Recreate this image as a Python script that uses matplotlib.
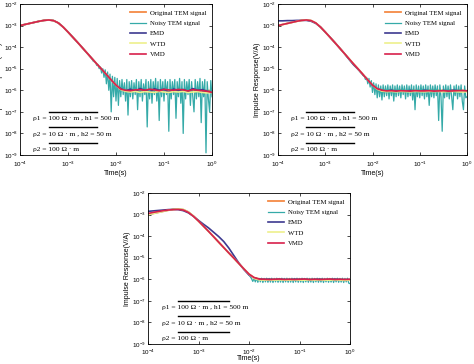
import numpy as np
import matplotlib
matplotlib.use("Agg")
import matplotlib.pyplot as plt
from matplotlib.ticker import LogLocator, NullLocator

# log10(time) grid for the smooth curves, -4 .. 0 step 0.1
LOGT = np.round(np.arange(-4.0, 0.0001, 0.1), 2)

# original TEM response (log10 V/A), shared by all panels
original = [-3.00, -2.95, -2.90, -2.85, -2.80, -2.76, -2.74, -2.77, -2.88, -3.07,
            -3.30, -3.54, -3.78, -4.03, -4.28, -4.53, -4.78, -5.02, -5.27, -5.52,
            -5.76, -5.92, -5.98, -6.00, -6.00, -6.00, -6.00, -6.01, -6.00, -6.00,
            -6.00, -6.01, -6.00, -6.00, -6.00, -6.01, -6.00, -6.00, -6.01, -6.01, -6.02]

# denoised curves, panel 1 (top left)
emd_1 = original[:21] + [-5.93, -6.03, -5.95, -6.05, -5.92, -6.00, -6.08, -5.93, -6.00, -5.95,
                         -6.10, -5.94, -6.02, -5.96, -6.05, -5.92, -6.00, -5.97, -6.05, -6.08]
wtd_1 = original[:21] + [-5.97, -6.05, -6.08, -6.05, -6.10, -6.06, -6.08, -6.10, -6.05, -6.08,
                         -6.10, -6.06, -6.08, -6.05, -6.10, -6.08, -6.06, -6.10, -6.12, -6.10]
vmd_1 = original[:21] + [-5.95, -6.00, -6.02, -5.98, -5.97, -6.00, -5.95, -5.98, -6.02, -5.96,
                         -5.98, -6.00, -5.96, -5.98, -6.03, -5.97, -6.00, -6.02, -6.05, -6.10]

# panel 2 (top right)
emd_2 = [-2.78, -2.78, -2.77, -2.77, -2.76, -2.76, -2.76, -2.80, -2.90, -3.07,
         -3.30, -3.54, -3.78, -4.03, -4.28, -4.55, -4.82, -5.04, -5.28, -5.53,
         -5.77, -5.93, -6.02, -6.03, -6.00, -6.04, -6.02, -6.05, -6.01, -6.03,
         -6.04, -6.00, -6.03, -6.02, -6.05, -6.01, -6.03, -6.00, -6.02, -6.04, -6.03]
wtd_2 = original[:21] + [-5.95, -6.04, -6.06, -6.05, -6.07, -6.05, -6.06, -6.07, -6.05, -6.06,
                         -6.07, -6.05, -6.06, -6.05, -6.07, -6.06, -6.05, -6.07, -6.08, -6.07]
vmd_2 = original[:21] + [-5.93, -6.00, -6.03, -6.02, -6.04, -6.02, -6.03, -6.04, -6.02, -6.03,
                         -6.03, -6.02, -6.04, -6.03, -6.02, -6.04, -6.03, -6.02, -6.01, -6.03]

# panel 3 (bottom)
emd_3 = [-2.85, -2.83, -2.81, -2.79, -2.77, -2.76, -2.77, -2.82, -2.92, -3.08,
         -3.27, -3.45, -3.62, -3.82, -4.02, -4.25, -4.55, -4.90, -5.25, -5.55,
         -5.80, -5.95, -6.00, -6.01, -6.00, -6.02, -6.00, -6.01, -6.02, -6.00,
         -6.01, -6.00, -6.02, -6.01, -6.00, -6.02, -6.01, -6.00, -6.01, -6.02, -6.01]
wtd_3 = original[:21] + [-5.96, -6.03, -6.04, -6.03, -6.04, -6.03, -6.04, -6.04, -6.03, -6.04,
                         -6.04, -6.03, -6.04, -6.03, -6.04, -6.04, -6.03, -6.04, -6.05, -6.04]
vmd_3 = [-2.95, -2.90, -2.86, -2.82, -2.79, -2.77, -2.76, -2.79, -2.90, -3.08,
         -3.30, -3.54, -3.78, -4.03, -4.28, -4.53, -4.78, -5.02, -5.27, -5.52,
         -5.76, -5.92, -5.99, -6.00, -6.01, -6.00, -5.99, -6.01, -6.00, -6.01,
         -6.00, -5.99, -6.01, -6.00, -6.01, -6.00, -5.99, -6.01, -6.00, -6.01, -6.00]

# noisy signal: log10(time) -2.5 .. 0, 101 samples
NOISE_LOGT = np.linspace(-2.5, 0.0, 101)

noisy_1 = [-4.55, -4.65, -4.68, -4.70, -4.85, -4.80, -5.00, -4.92, -5.20, -5.00,
           -5.40, -5.05, -5.70, -5.15, -6.00, -5.25, -7.00, -5.35, -6.30, -5.40,
           -6.50, -5.45, -6.70, -5.55, -6.30, -5.50, -6.20, -5.65, -6.50, -5.50,
           -7.15, -5.60, -6.30, -5.55, -6.40, -5.65, -6.20, -5.50, -6.90, -5.60,
           -6.30, -5.50, -6.50, -5.70, -6.20, -5.50, -7.70, -5.60, -6.40, -5.50,
           -6.60, -5.60, -6.20, -5.45, -6.50, -5.60, -7.40, -5.50, -6.30, -5.60,
           -6.50, -5.50, -6.20, -5.60, -7.90, -5.50, -6.40, -5.60, -6.20, -5.50,
           -7.30, -5.60, -6.30, -5.45, -6.60, -5.60, -8.00, -5.50, -6.40, -5.60,
           -6.20, -5.50, -6.70, -5.60, -6.30, -7.00, -5.50, -6.40, -5.60, -6.30,
           -5.45, -7.50, -5.60, -6.30, -5.50, -8.90, -5.60, -6.40, -7.00, -5.55, -6.30]

noisy_2 = [-4.57, -4.63, -4.69, -4.75, -4.80, -4.86, -4.92, -4.98, -5.05, -5.10,
           -5.18, -5.22, -5.32, -5.33, -5.50, -5.40, -5.70, -5.45, -5.85, -5.55,
           -6.10, -5.65, -6.20, -5.70, -6.35, -5.75, -6.30, -5.80, -6.45, -5.75,
           -6.30, -5.80, -6.25, -5.75, -6.40, -5.80, -6.25, -5.75, -6.50, -5.80,
           -6.30, -5.75, -6.25, -5.80, -6.35, -5.75, -6.20, -5.80, -6.40, -5.75,
           -6.30, -5.80, -6.25, -5.75, -6.45, -5.80, -6.90, -5.75, -6.30, -5.80,
           -6.35, -5.75, -6.25, -5.80, -6.40, -5.75, -6.30, -5.80, -6.70, -5.75,
           -6.30, -5.80, -6.35, -5.75, -6.25, -5.80, -7.40, -5.75, -6.30, -7.90,
           -5.80, -6.35, -5.75, -6.30, -5.80, -6.40, -5.75, -6.30, -6.90, -5.80,
           -6.25, -5.75, -6.40, -5.80, -6.30, -5.75, -6.50, -6.90, -5.80, -6.35, -6.30]

noisy_3 = [-4.53, -4.59, -4.65, -4.72, -4.78, -4.84, -4.90, -4.96, -5.02, -5.08,
           -5.15, -5.21, -5.27, -5.33, -5.40, -5.46, -5.52, -5.58, -5.66, -5.72,
           -5.80, -5.88, -5.97, -6.10, -5.96, -6.12, -5.95, -6.14, -5.96, -6.12,
           -5.95, -6.15, -5.96, -6.12, -5.95, -6.14, -5.96, -6.13, -5.95, -6.15,
           -5.96, -6.12, -5.95, -6.14, -5.96, -6.13, -5.95, -6.15, -5.96, -6.12,
           -5.95, -6.14, -5.96, -6.13, -5.95, -6.15, -5.96, -6.12, -5.95, -6.14,
           -5.96, -6.13, -5.95, -6.15, -5.96, -6.12, -5.95, -6.14, -5.96, -6.13,
           -5.95, -6.15, -5.96, -6.12, -5.95, -6.14, -5.96, -6.13, -5.95, -6.15,
           -5.96, -6.12, -5.95, -6.14, -5.96, -6.13, -5.95, -6.15, -5.96, -6.12,
           -5.95, -6.14, -5.96, -6.13, -5.95, -6.15, -5.96, -6.12, -5.95, -6.18, -6.20]

LABELS = ["Original TEM signal", "Noisy TEM signal", "EMD", "WTD", "VMD"]
COLORS = ["#f58a45", "#35aaa8", "#3d3a90", "#eef08c", "#d8204c"]
MODEL_TEXT = [r"ρ1 = 100 Ω · m , h1 = 500 m",
              r"ρ2 = 10 Ω · m , h2 = 50 m",
              r"ρ2 = 100 Ω · m"]

SERIF = ["Liberation Serif", "DejaVu Serif"]
SANS = "Liberation Sans"


def draw_panel(ax, emd, wtd, vmd, noisy):
    t = 10.0 ** LOGT
    noisy_t = np.concatenate([t[:15], 10.0 ** NOISE_LOGT])
    noisy_v = 10.0 ** np.array(original[:15] + noisy)

    ax.plot(t, 10.0 ** np.array(original), color=COLORS[0], lw=1.3, label=LABELS[0])
    ax.plot(noisy_t, noisy_v, color=COLORS[1], lw=0.9, label=LABELS[1])
    ax.plot(t, 10.0 ** np.array(emd), color=COLORS[2], lw=1.2, label=LABELS[2])
    ax.plot(t, 10.0 ** np.array(wtd), color=COLORS[3], lw=1.2, label=LABELS[3])
    ax.plot(t, 10.0 ** np.array(vmd), color=COLORS[4], lw=1.2, label=LABELS[4])

    ax.set_xscale("log")
    ax.set_yscale("log")
    ax.set_xlim(1e-4, 1)
    ax.set_ylim(1e-9, 1e-2)
    ax.xaxis.set_major_locator(LogLocator(base=10, numticks=10))
    ax.yaxis.set_major_locator(LogLocator(base=10, numticks=10))
    ax.xaxis.set_minor_locator(NullLocator())
    ax.yaxis.set_minor_locator(NullLocator())
    ax.tick_params(direction="in", top=True, right=True, length=2, width=0.5,
                   labelsize=4.5)
    ax.tick_params(axis="x", pad=3.5)
    ax.tick_params(axis="y", pad=1.5)
    for lab in ax.get_xticklabels() + ax.get_yticklabels():
        lab.set_fontfamily(SANS)
    for sp in ax.spines.values():
        sp.set_linewidth(0.6)

    ax.set_xlabel("Time(s)", fontsize=5, family=SANS, labelpad=0.5)
    ax.set_ylabel("Impulse Response(V/A)", fontsize=5, family=SANS, labelpad=0.5)

    ax.legend(loc="upper right", frameon=False, prop={"family": SERIF, "size": 4.9},
              handlelength=2.3, handletextpad=0.6, labelspacing=0.68,
              borderaxespad=0.5, borderpad=0.35)

    # layer model annotation
    for yl in (0.285, 0.185, 0.082):
        ax.axhline(10 ** (-9 + 7 * yl), xmin=0.15, xmax=0.4, color="black", lw=1.0)
    for yt, txt in zip((0.245, 0.135, 0.035), MODEL_TEXT):
        ax.text(0.068, yt, txt, transform=ax.transAxes, fontsize=5.4, family=SERIF,
                va="center", ha="left")


fig = plt.figure(figsize=(4.74, 3.64), dpi=100)
ax1 = fig.add_axes([20 / 474, 1 - 155 / 364, 192 / 474, 151 / 364])
ax2 = fig.add_axes([278 / 474, 1 - 155 / 364, 189 / 474, 151 / 364])
ax3 = fig.add_axes([148 / 474, 1 - 344 / 364, 202 / 474, 151 / 364])

draw_panel(ax1, emd_1, wtd_1, vmd_1, noisy_1)
draw_panel(ax2, emd_2, wtd_2, vmd_2, noisy_2)
draw_panel(ax3, emd_3, wtd_3, vmd_3, noisy_3)
# the first panel's y label sits right at the figure edge, as in the original
ax1.yaxis.set_label_coords(-0.088, 0.5)
ax3.xaxis.labelpad = -1.0
ax3.tick_params(axis="x", pad=2.5)

fig.savefig("out.png", dpi=100)
